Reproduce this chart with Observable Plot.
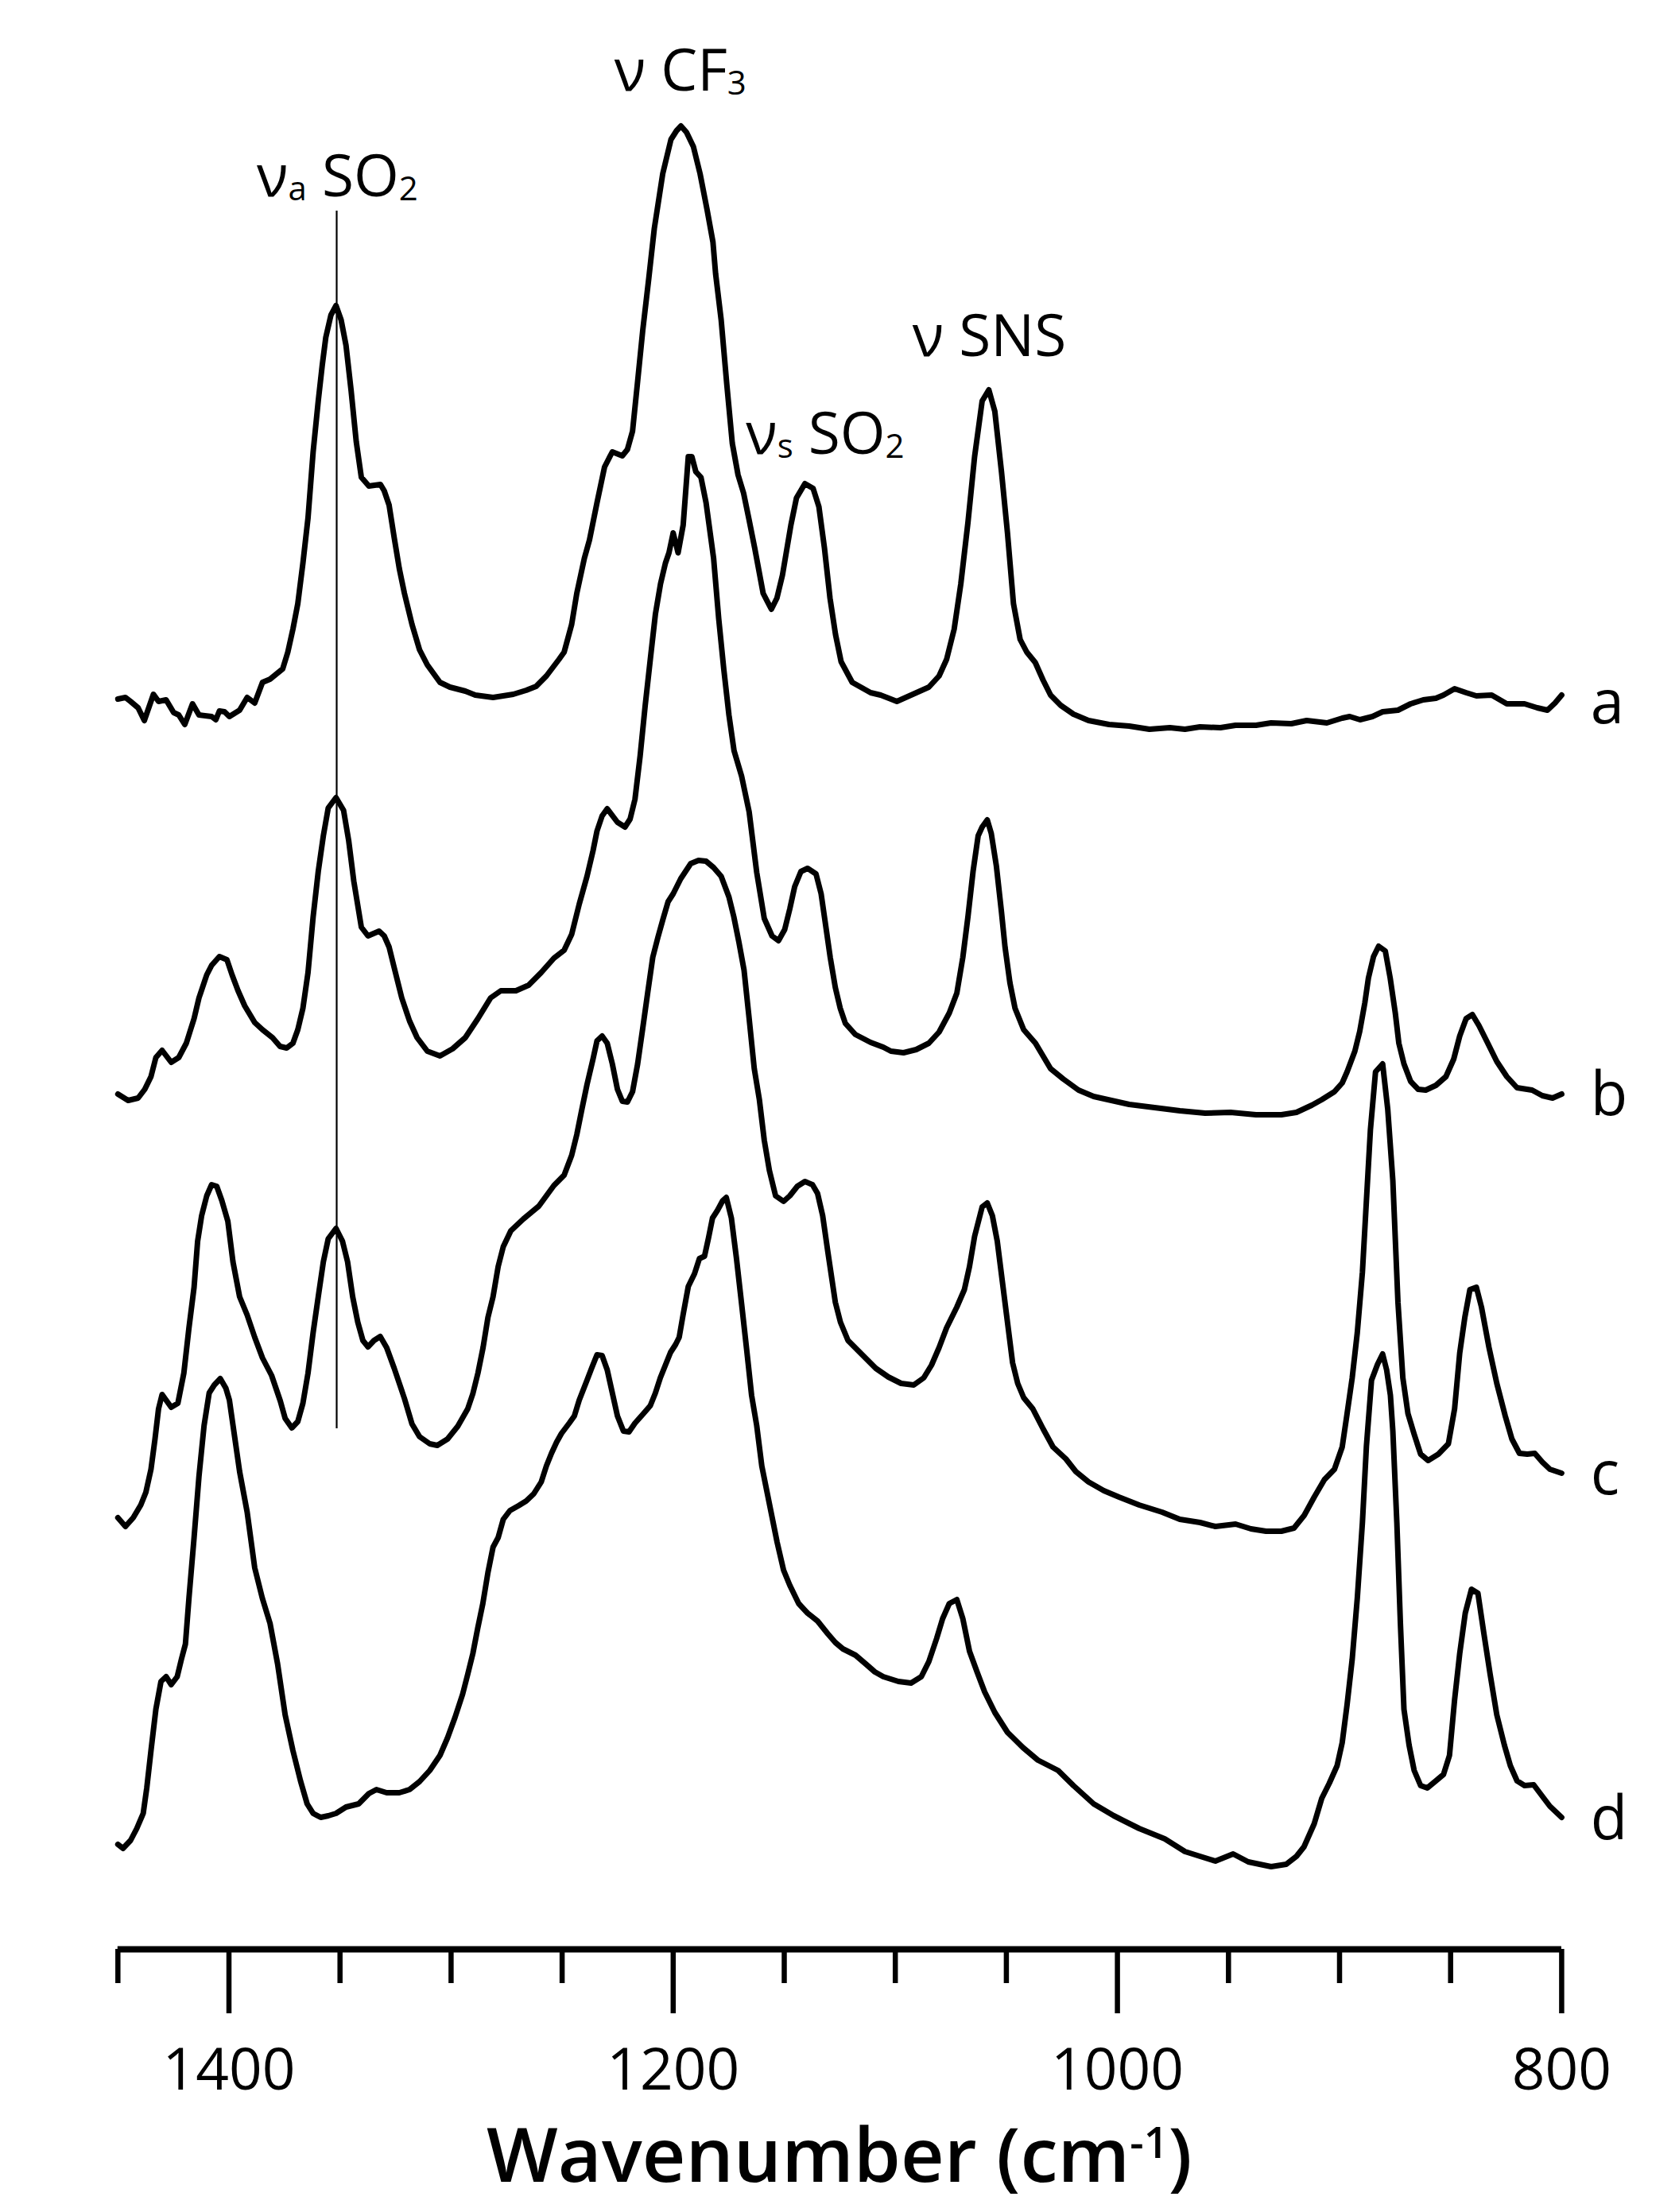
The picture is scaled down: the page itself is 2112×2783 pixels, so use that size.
<!DOCTYPE html>
<html>
<head>
<meta charset="utf-8">
<script src="https://cdn.jsdelivr.net/npm/d3@7"></script>
<script src="https://cdn.jsdelivr.net/npm/@observablehq/plot@0.6"></script>
<style>
  html, body { margin: 0; padding: 0; background: #fff; }
  #chart svg { display: block; }
</style>
</head>
<body>
<div id="chart"></div>
<script>
// Wavenumber (cm-1), stacked intensity (arbitrary units, as plotted)
const spectrumA = [[1450,14.71],[1446.6,14.73],[1444.3,14.68],[1440.9,14.60],[1438.1,14.44],[1434.0,14.77],[1431.7,14.68],[1428.3,14.70],[1424.9,14.54],[1422.6,14.51],[1419.9,14.39],[1416.4,14.65],[1413.5,14.51],[1407.8,14.49],[1405.9,14.45],[1404.3,14.56],[1402.0,14.55],[1399.8,14.49],[1395.2,14.57],[1391.8,14.73],[1388.4,14.66],[1384.9,14.92],[1381.5,14.96],[1375.8,15.09],[1373.5,15.30],[1371.2,15.59],[1369.0,15.91],[1366.7,16.42],[1364.4,16.99],[1362.1,17.82],[1359.8,18.46],[1358.0,18.91],[1356.4,19.26],[1354.1,19.54],[1351.8,19.66],[1349.5,19.48],[1347.3,19.16],[1345.0,18.59],[1342.7,17.95],[1340.4,17.50],[1337.0,17.39],[1331.8,17.41],[1330.1,17.33],[1327.9,17.15],[1325.6,16.74],[1323.3,16.35],[1321.0,16.04],[1317.6,15.65],[1314.2,15.33],[1310.7,15.14],[1305.0,14.92],[1300.5,14.86],[1293.6,14.81],[1289.1,14.76],[1281.1,14.73],[1272.0,14.77],[1266.2,14.82],[1261.7,14.87],[1257.1,15.00],[1251.4,15.21],[1249.1,15.30],[1245.7,15.65],[1243.4,16.04],[1240.0,16.48],[1237.7,16.71],[1234.3,17.18],[1230.9,17.63],[1227.4,17.82],[1222.9,17.77],[1220.6,17.85],[1218.3,18.08],[1216.0,18.71],[1213.7,19.35],[1211.0,20.00],[1208.5,20.63],[1204.7,21.32],[1201.0,21.75],[1198.5,21.86],[1196.5,21.92],[1194.0,21.84],[1190.9,21.66],[1187.9,21.32],[1184.7,20.86],[1182.1,20.46],[1180.9,20.06],[1178.4,19.48],[1175.9,18.68],[1173.4,17.93],[1170.8,17.53],[1168.3,17.30],[1165.8,16.96],[1163.3,16.61],[1159.5,16.04],[1155.8,15.84],[1153.3,15.98],[1150.8,16.27],[1147.0,16.90],[1144.5,17.24],[1140.7,17.42],[1137.0,17.36],[1134.4,17.13],[1131.9,16.61],[1129.4,15.98],[1126.9,15.52],[1124.4,15.18],[1119.4,14.92],[1111.1,14.79],[1106.6,14.76],[1102.0,14.71],[1099.3,14.68],[1092.9,14.76],[1084.9,14.86],[1080.3,15.00],[1076.9,15.21],[1073.5,15.59],[1070.5,16.16],[1067.3,16.93],[1064.3,17.76],[1060.9,18.46],[1057.9,18.60],[1055.2,18.33],[1052.2,17.57],[1049.5,16.80],[1046.8,15.91],[1043.8,15.46],[1040.8,15.30],[1037.0,15.17],[1033.5,14.95],[1030.1,14.76],[1025.5,14.63],[1019.8,14.52],[1013.0,14.44],[1003.8,14.39],[994.7,14.37],[985.6,14.33],[976.4,14.35],[969.6,14.33],[962.8,14.36],[953.6,14.35],[946.8,14.38],[937.6,14.38],[930.8,14.41],[921.7,14.40],[914.8,14.44],[905.7,14.41],[898.8,14.47],[895.4,14.49],[890.8,14.45],[885.2,14.49],[880.6,14.55],[873.7,14.57],[868.0,14.65],[862.3,14.70],[856.6,14.72],[853.2,14.76],[848.2,14.84],[843.0,14.79],[838.4,14.75],[831.5,14.76],[824.7,14.65],[816.7,14.65],[811.0,14.60],[806.4,14.57],[803.0,14.66],[800.0,14.76]];

const spectrumB = [[1450,9.74],[1445.4,9.66],[1440.9,9.69],[1437.9,9.80],[1435.1,9.96],[1432.9,10.20],[1430.1,10.29],[1426.0,10.14],[1422.6,10.20],[1419.2,10.38],[1415.7,10.69],[1413.5,10.95],[1410.0,11.24],[1407.8,11.36],[1404.3,11.47],[1400.9,11.43],[1398.6,11.24],[1395.9,11.04],[1392.9,10.85],[1388.4,10.64],[1384.9,10.55],[1380.4,10.45],[1377.0,10.34],[1374.0,10.32],[1371.2,10.38],[1369.0,10.55],[1366.7,10.82],[1364.4,11.27],[1362.1,11.97],[1359.8,12.54],[1357.5,12.99],[1355.3,13.34],[1351.8,13.47],[1348.4,13.31],[1346.1,12.93],[1343.8,12.42],[1340.4,11.84],[1337.4,11.73],[1332.4,11.79],[1330.1,11.73],[1327.9,11.59],[1325.6,11.33],[1322.2,10.95],[1318.7,10.66],[1315.3,10.45],[1310.7,10.28],[1305.0,10.22],[1299.3,10.31],[1293.6,10.45],[1287.9,10.69],[1282.2,10.95],[1277.6,11.04],[1270.8,11.04],[1265.1,11.11],[1259.4,11.27],[1253.7,11.45],[1249.1,11.55],[1245.7,11.75],[1242.3,12.13],[1238.8,12.48],[1236.1,12.80],[1234.3,13.05],[1232.0,13.24],[1229.7,13.33],[1225.1,13.16],[1221.7,13.10],[1219.4,13.20],[1217.2,13.45],[1214.9,13.99],[1212.6,14.63],[1210.3,15.21],[1208.0,15.78],[1205.7,16.16],[1203.5,16.42],[1201.9,16.55],[1200.0,16.80],[1197.8,16.55],[1195.5,16.90],[1193.2,17.76],[1191.6,17.76],[1189.8,17.57],[1187.5,17.50],[1185.2,17.18],[1181.8,16.48],[1179.5,15.72],[1177.2,15.08],[1174.9,14.51],[1172.6,14.06],[1169.2,13.74],[1165.8,13.29],[1162.4,12.53],[1159.0,11.95],[1155.5,11.73],[1152.6,11.67],[1149.8,11.81],[1147.5,12.07],[1145.3,12.35],[1142.5,12.54],[1139.5,12.58],[1135.7,12.51],[1133.4,12.26],[1131.6,11.91],[1129.3,11.46],[1127.0,11.08],[1124.8,10.82],[1122.5,10.63],[1118.0,10.49],[1111.1,10.39],[1105.4,10.33],[1102.0,10.28],[1096.3,10.26],[1090.6,10.30],[1084.9,10.38],[1080.3,10.52],[1075.7,10.76],[1072.3,11.01],[1069.6,11.46],[1067.3,11.97],[1065.0,12.54],[1062.7,12.99],[1060.9,13.10],[1058.6,13.19],[1056.8,13.02],[1054.5,12.61],[1052.2,12.03],[1050.6,11.59],[1048.4,11.14],[1046.1,10.82],[1042.2,10.55],[1036.9,10.38],[1033.5,10.22],[1030.1,10.06],[1024.4,9.93],[1017.5,9.79],[1010.7,9.71],[1002.7,9.66],[994.7,9.61],[983.3,9.57],[971.9,9.53],[960.5,9.50],[949.1,9.51],[937.6,9.48],[926.2,9.48],[919.4,9.51],[912.5,9.60],[908.0,9.67],[902.3,9.77],[898.8,9.88],[896.6,10.02],[893.1,10.28],[890.9,10.53],[888.6,10.89],[887.0,11.20],[884.7,11.47],[882.4,11.60],[879.4,11.54],[877.2,11.20],[874.9,10.76],[873.3,10.38],[871.0,10.12],[868.0,9.90],[864.6,9.80],[861.2,9.79],[856.6,9.85],[852.1,9.96],[848.6,10.18],[845.9,10.47],[843.0,10.69],[840.2,10.74],[837.2,10.60],[833.8,10.41],[829.2,10.15],[824.7,9.96],[820.1,9.82],[813.3,9.79],[808.7,9.72],[804.1,9.69],[800.0,9.74]];

const spectrumC = [[1450,4.41],[1446.6,4.30],[1443.1,4.41],[1439.7,4.57],[1437.4,4.73],[1435.1,5.02],[1433.3,5.40],[1431.7,5.78],[1430.1,5.96],[1426.0,5.80],[1423.0,5.85],[1420.3,6.23],[1418.0,6.80],[1415.7,7.31],[1414.1,7.89],[1412.3,8.21],[1410.0,8.46],[1407.8,8.60],[1405.5,8.58],[1403.2,8.40],[1400.5,8.14],[1398.2,7.63],[1395.2,7.19],[1391.8,6.96],[1388.4,6.68],[1384.9,6.42],[1380.8,6.20],[1376.9,5.88],[1374.7,5.66],[1371.7,5.54],[1369.0,5.62],[1366.7,5.85],[1364.4,6.23],[1362.1,6.74],[1359.8,7.19],[1357.5,7.63],[1355.3,7.92],[1351.8,8.05],[1348.9,7.89],[1346.6,7.63],[1344.3,7.19],[1342.0,6.87],[1339.7,6.64],[1337.4,6.56],[1334.7,6.64],[1331.9,6.69],[1329.0,6.55],[1325.6,6.29],[1321.0,5.91],[1317.6,5.59],[1314.2,5.43],[1309.6,5.34],[1306.2,5.32],[1301.6,5.40],[1297.0,5.56],[1292.5,5.78],[1290.2,5.97],[1287.9,6.23],[1285.6,6.55],[1283.4,6.93],[1281.1,7.19],[1278.8,7.57],[1276.5,7.82],[1273.1,8.02],[1267.4,8.17],[1260.5,8.33],[1257.1,8.46],[1253.7,8.59],[1249.1,8.72],[1245.7,8.97],[1243.4,9.23],[1241.1,9.55],[1238.8,9.86],[1236.1,10.18],[1234.3,10.41],[1232.0,10.47],[1229.7,10.38],[1227.4,10.12],[1225.1,9.80],[1222.9,9.65],[1220.6,9.64],[1218.3,9.77],[1216.0,10.12],[1213.7,10.57],[1211.5,11.01],[1209.2,11.46],[1206.9,11.71],[1204.6,11.94],[1202.3,12.16],[1200.0,12.26],[1196.6,12.45],[1192.1,12.64],[1188.6,12.68],[1185.2,12.67],[1181.8,12.59],[1178.4,12.48],[1174.9,12.22],[1172.7,11.97],[1170.4,11.65],[1168.1,11.30],[1165.8,10.69],[1163.5,10.06],[1161.2,9.67],[1159.0,9.16],[1156.7,8.78],[1153.9,8.46],[1150.3,8.39],[1147.5,8.46],[1144.1,8.58],[1140.7,8.64],[1137.3,8.60],[1135.0,8.49],[1132.7,8.21],[1130.4,7.76],[1127.0,7.12],[1124.7,6.87],[1121.3,6.64],[1115.6,6.48],[1108.8,6.29],[1103.1,6.18],[1097.4,6.10],[1091.7,6.08],[1087.2,6.17],[1083.7,6.33],[1080.3,6.55],[1076.9,6.80],[1072.3,7.06],[1068.9,7.28],[1066.6,7.57],[1064.3,7.95],[1060.9,8.32],[1058.6,8.37],[1056.3,8.21],[1054.1,7.89],[1051.8,7.38],[1049.5,6.87],[1047.2,6.36],[1044.9,6.10],[1042.2,5.92],[1038.1,5.78],[1033.5,5.53],[1029.0,5.30],[1023.2,5.15],[1018.7,4.99],[1013.0,4.86],[1006.1,4.75],[999.3,4.67],[990.2,4.57],[979.9,4.48],[971.9,4.39],[962.8,4.35],[955.9,4.30],[946.8,4.33],[939.9,4.27],[933.1,4.24],[926.2,4.24],[920.5,4.28],[915.9,4.44],[911.4,4.67],[906.8,4.89],[902.3,5.02],[898.8,5.30],[896.6,5.72],[894.3,6.17],[892.0,6.74],[889.7,7.50],[887.9,8.40],[886.1,9.29],[883.8,10.02],[880.6,10.12],[878.3,9.55],[876.0,8.65],[873.7,7.12],[871.5,6.17],[869.2,5.72],[866.4,5.46],[863.5,5.21],[860.1,5.13],[855.5,5.21],[851.0,5.34],[848.2,5.78],[845.9,6.48],[843.6,6.93],[841.3,7.28],[838.4,7.31],[836.1,7.06],[832.7,6.55],[829.2,6.10],[825.4,5.69],[822.4,5.40],[819.0,5.22],[815.5,5.21],[812.1,5.22],[808.7,5.11],[805.3,5.02],[800.0,4.97]];

const spectrumD = [[1450,0.30],[1447.7,0.25],[1444.3,0.35],[1441.5,0.50],[1438.6,0.69],[1437.0,1.01],[1435.1,1.48],[1432.9,2.00],[1430.6,2.35],[1428.3,2.41],[1426.0,2.31],[1423.3,2.41],[1421.4,2.63],[1419.6,2.82],[1418.0,3.40],[1415.7,4.16],[1413.5,4.93],[1411.2,5.57],[1408.9,5.98],[1406.6,6.08],[1403.9,6.16],[1401.4,6.04],[1399.8,5.89],[1397.5,5.44],[1395.2,4.99],[1391.8,4.48],[1388.4,3.78],[1385.0,3.40],[1381.5,3.08],[1378.1,2.57],[1374.7,1.93],[1371.2,1.48],[1367.8,1.10],[1364.8,0.81],[1362.1,0.69],[1358.7,0.64],[1355.3,0.66],[1351.8,0.69],[1347.3,0.77],[1341.6,0.81],[1337.0,0.94],[1333.6,0.99],[1329.0,0.95],[1323.3,0.95],[1318.7,0.99],[1314.2,1.09],[1309.6,1.23],[1305.0,1.42],[1301.6,1.64],[1298.2,1.90],[1294.8,2.19],[1292.5,2.44],[1290.2,2.70],[1288.0,3.02],[1285.7,3.33],[1283.4,3.72],[1281.1,4.04],[1278.8,4.16],[1276.5,4.39],[1273.5,4.50],[1269.7,4.56],[1266.2,4.62],[1262.8,4.71],[1259.4,4.86],[1257.1,5.06],[1254.8,5.22],[1252.5,5.36],[1250.3,5.47],[1246.8,5.60],[1244.5,5.69],[1242.3,5.89],[1238.8,6.14],[1236.6,6.30],[1234.3,6.46],[1232.0,6.45],[1229.7,6.27],[1227.4,5.98],[1225.1,5.69],[1222.4,5.50],[1219.9,5.49],[1217.2,5.60],[1213.7,5.71],[1210.3,5.82],[1208.0,5.98],[1205.8,6.17],[1203.5,6.33],[1201.2,6.49],[1198.9,6.59],[1197.3,6.68],[1195.5,6.97],[1193.2,7.32],[1190.4,7.48],[1188.2,7.67],[1185.9,7.70],[1184.1,7.93],[1182.3,8.18],[1180.0,8.28],[1177.7,8.40],[1176.1,8.44],[1173.8,8.18],[1171.5,7.67],[1169.2,7.10],[1166.9,6.52],[1164.7,5.95],[1162.4,5.57],[1160.1,5.06],[1157.8,4.74],[1155.5,4.42],[1153.2,4.10],[1150.3,3.75],[1147.5,3.56],[1143.5,3.33],[1139.5,3.21],[1135.0,3.11],[1130.4,2.95],[1127.0,2.84],[1123.6,2.76],[1117.9,2.68],[1113.3,2.57],[1109.2,2.47],[1105.4,2.41],[1098.6,2.35],[1092.9,2.33],[1088.3,2.41],[1084.9,2.60],[1081.4,2.89],[1078.7,3.14],[1075.7,3.33],[1072.3,3.38],[1069.6,3.14],[1066.6,2.73],[1063.2,2.47],[1059.8,2.22],[1055.2,1.96],[1049.5,1.71],[1042.6,1.52],[1035.8,1.36],[1026.7,1.23],[1019.8,1.04],[1010.7,0.81],[1001.6,0.66],[990.2,0.50],[978.7,0.37],[969.6,0.21],[962.8,0.15],[955.9,0.09],[947.9,0.18],[941.1,0.08],[930.8,0.02],[924.0,0.05],[919.4,0.15],[916.0,0.27],[911.4,0.56],[908.0,0.88],[904.6,1.07],[901.1,1.29],[898.8,1.58],[896.6,2.06],[894.3,2.63],[892.0,3.40],[889.7,4.35],[887.9,5.31],[885.6,6.14],[882.9,6.34],[880.6,6.47],[878.8,6.27],[877.1,5.95],[876.0,5.50],[874.2,4.35],[872.6,3.08],[871.0,2.00],[868.7,1.55],[866.4,1.23],[863.5,1.04],[860.5,1.01],[856.6,1.10],[853.2,1.18],[850.5,1.42],[848.2,2.12],[845.9,2.70],[843.4,3.21],[840.6,3.51],[837.7,3.46],[835.0,2.95],[832.2,2.44],[829.2,1.93],[825.8,1.55],[823.1,1.29],[820.1,1.10],[816.7,1.04],[812.6,1.05],[809.1,0.92],[805.3,0.78],[800.0,0.64]];

const seriesNames = ["a", "b", "c", "d"];
const majorTicks = [1400, 1200, 1000, 800];
const minorTicks = [1450, 1350, 1300, 1250, 1150, 1100, 1050, 950, 900, 850];

// annotations: [wavenumber, intensity baseline]
const seriesLabelPos = [[787, 14.41], [787, 9.48], [787, 4.71], [787, 0.37]];
const markerLine = {w: 1351.5, from: 5.53, to: 20.85};
const peakLabels = [
  {parts: [["ν", 0], ["a", 1], [" SO", 0], ["2", 1]], w: 1351, v: 21.03},
  {parts: [["ν CF", 0], ["3", 1]], w: 1196.6, v: 22.36},
  {parts: [["ν", 0], ["s", 1], [" SO", 0], ["2", 1]], w: 1131.4, v: 17.79},
  {parts: [["ν SNS", 0]], w: 1057.5, v: 19.02}
];

const rows = [];
[spectrumA, spectrumB, spectrumC, spectrumD].forEach((s, i) =>
  s.forEach(([w, v]) => rows.push({series: seriesNames[i], w, v})));
const labelRows = seriesNames.map((name, i) => ({name, w: seriesLabelPos[i][0], v: seriesLabelPos[i][1]}));

const yDomain = [-1.02, 23.5];
const FONT = "'Open Sans', 'Noto Sans', sans-serif";

const plot = Plot.plot({
  width: 2112,
  height: 2783,
  marginLeft: 147.8,
  marginRight: 148.1,
  marginTop: 0,
  marginBottom: 331,
  x: {domain: [1450, 800]},
  y: {domain: yDomain, axis: null},
  style: {fontFamily: FONT, background: "white", color: "black", overflow: "visible"},
  marks: [
    Plot.ruleX([markerLine.w], {y1: markerLine.from, y2: markerLine.to, stroke: "black", strokeWidth: 2.2}),
    Plot.line(rows, {x: "w", y: "v", z: "series", stroke: "black", strokeWidth: 7,
      strokeLinejoin: "round", strokeLinecap: "round", curve: "linear"}),
    Plot.axisX({anchor: "bottom", ticks: minorTicks, tickSize: 43, tickFormat: () => "",
      strokeWidth: 6.5, label: null}),
    Plot.axisX({anchor: "bottom", ticks: majorTicks, tickSize: 81, tickPadding: 44,
      tickFormat: d => String(d), fontSize: 73, fontWeight: 500, strokeWidth: 6.5, label: null}),
    Plot.ruleY([yDomain[0]], {x1: 1450, x2: 800, stroke: "black", strokeWidth: 8}),
    Plot.text(labelRows, {x: "w", y: "v", text: "name", textAnchor: "start", lineAnchor: "bottom",
      fontSize: 76, fontWeight: 500, fill: "black"})
  ]
});

document.getElementById("chart").appendChild(plot);

// peak annotations with subscripts and axis title with superscript, positioned via the plot's scales
const sx = plot.scale("x"), sy = plot.scale("y");
const svg = d3.select(plot);
const g = svg.append("g").attr("font-family", FONT).attr("fill", "black");
for (const lab of peakLabels) {
  const t = g.append("text")
    .attr("x", sx.apply(lab.w))
    .attr("y", sy.apply(lab.v))
    .attr("text-anchor", "middle")
    .attr("font-size", 73)
    .attr("font-weight", 500);
  let shifted = false;
  for (const [str, sub] of lab.parts) {
    const ts = t.append("tspan").text(str);
    if (sub && !shifted) { ts.attr("font-size", 42).attr("dy", 5); shifted = true; }
    else if (!sub && shifted) { ts.attr("dy", -5); shifted = false; }
    else if (sub) ts.attr("font-size", 42);
  }
}
const title = g.append("text")
  .attr("x", (sx.apply(1450) + sx.apply(800)) / 2)
  .attr("y", sy.apply(yDomain[0]) + 293)
  .attr("text-anchor", "middle")
  .attr("font-size", 95)
  .attr("font-weight", 600);
title.append("tspan").text("Wavenumber (cm");
title.append("tspan").text("-1").attr("font-size", 54).attr("dy", -30);
title.append("tspan").text(")").attr("dy", 30);
</script>
</body>
</html>
